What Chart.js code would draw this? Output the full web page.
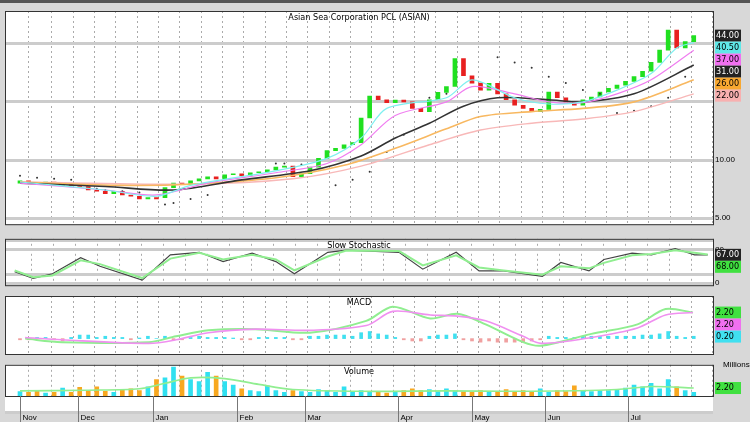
<!DOCTYPE html>
<html lang="en">
<head>
<meta charset="UTF-8">
<title>Asian Sea Corporation PCL (ASIAN)</title>
<script src="https://cdn.jsdelivr.net/npm/chart.js"></script>
<style>
  body { margin: 0; background: #fff; font-family: "DejaVu Sans", Arial, sans-serif; }
  #wrap { position: relative; width: 750px; height: 422px; border-top: 3px solid #555; box-sizing: border-box; background: #d8d8d8; overflow: hidden; }
  .panel { position: absolute; left: 0; width: 750px; }
</style>
</head>
<body>
<div id="wrap">
  <div class="panel" style="top:0;height:228px"><canvas id="priceChart"></canvas></div>
  <div class="panel" style="top:229px;height:60px"><canvas id="stochChart"></canvas></div>
  <div class="panel" style="top:290px;height:64px"><canvas id="macdChart"></canvas></div>
  <div class="panel" style="top:355px;height:64px"><canvas id="volChart"></canvas></div>
</div>
<script>
// daily candles (index 0..79)
const opens = [7.6,7.8,7.6,7.5,7.7,7.4,7.5,7.4,7.3,7.0, 6.9,6.7,6.9,6.6,6.5,6.3,6.4,6.4,7.2,7.6,
  7.5,7.8,8.0,8.2,8.0,8.4,8.5,8.3,8.6,8.7, 8.9,9.2,9.3,8.2,8.5,9.2,10.2,11.2,11.5,12.0,
  12.3,16.5,21.4,20.5,19.8,20.4,20.0,18.5,17.8,20.5, 22.4,24.0,33.5,27.3,25.0,23.0,24.9,22.0,20.5,19.2,
  18.5,17.8,18.3,22.5,21.0,20.0,19.2,20.5,21.2,22.5, 23.5,24.4,25.5,27.0,28.8,32.0,37.0,47.0,38.0,41.0];
const closes = [7.8,7.6,7.5,7.7,7.4,7.5,7.4,7.3,7.0,6.9, 6.7,6.9,6.6,6.5,6.3,6.4,6.3,7.2,7.6,7.5,
  7.8,8.0,8.2,8.0,8.4,8.5,8.3,8.6,8.7,8.9, 9.2,9.3,8.2,8.5,9.2,10.2,11.2,11.5,12.0,12.3,
  16.5,21.4,20.5,19.8,20.4,20.0,18.5,17.8,20.5,22.4, 24.0,33.5,27.3,25.0,23.0,24.9,22.0,20.5,19.2,18.5,
  17.8,18.3,22.5,21.0,20.0,19.2,20.5,21.2,22.5,23.5, 24.4,25.5,27.0,28.8,32.0,37.0,47.0,38.0,41.0,44.0];

// moving averages: [index, value]
const maCyan  = [[0,7.7],[10,7.0],[16,6.5],[20,7.4],[30,8.8],[36,10.2],[40,13],[43,18.5],[50,21],[53,26],[58,21],[62,19.5],[66,20],[70,23],[74,28],[77,38],[79,40.5]];
const maPink  = [[0,7.6],[10,7.0],[16,6.6],[22,7.6],[30,8.6],[36,9.6],[40,12],[44,17],[50,20],[53,24],[58,22],[62,20],[66,19.8],[70,22],[74,26],[79,37]];
const maBlack = [[0,7.6],[10,7.3],[18,7.0],[26,7.9],[34,8.8],[40,10.5],[44,13],[48,15.5],[52,19],[56,21],[62,20.5],[66,20],[72,22],[79,31]];
const maOrange= [[0,7.7],[12,7.4],[20,7.5],[30,8.1],[38,9.4],[44,11.5],[50,14.5],[54,16.8],[60,17.8],[66,18.5],[72,20],[79,26]];
const maRed   = [[0,7.7],[20,7.5],[32,8.0],[40,9.3],[48,12],[54,14.3],[60,15.5],[66,16.3],[72,17.8],[79,22]];
const sarPts  = [[0,8.3],[2,8.1],[4,8.0],[6,7.9],[9,7.1],[10,7.0],[12,6.9],[14,6.8],[17,5.9],[18,6.0],[20,6.3],[22,6.6],[30,9.6],[31,9.6],[33,9.5],[37,7.4],[39,7.9],[41,8.7],[43,11],[45,13.5],[48,21],[50,22],[56,34],[58,32],[60,30],[62,27],[64,25],[66,23],[68,22],[70,17.5],[72,18],[74,19],[76,21],[78,27]];

// slow stochastic
const stochX = [0.6,2.7,4.9,8.1,10.3,15.1,18.3,21.6,24.3,27.6,30.3,32.4,36.2,38.3,44.3,47,50.8,53.4,56.2,60.6,62.7,65.9,67.6,70.8,73,75.7,77.9,79.4];
const stochK = [27,11,22,60,40,7,67,73,51,71,51,22,73,78,73,33,73,29,29,16,49,29,56,71,67,82,67,67];
const stochD = [30,14,18,54,45,12,58,72,56,67,56,30,63,77,76,42,66,37,30,20,40,35,48,66,69,78,72,68];

// MACD
const macdX    = [0.6,4.9,15.1,18.3,22.1,27.6,34,40.6,43.7,48.1,51.3,54.6,59,61.1,67,72.4,75.7,78.9];
const macdLine = [0,-0.3,-0.3,0.2,0.7,0.8,0.5,1.5,2.7,1.7,2.1,1.2,-0.3,-0.6,0.4,1.2,2.5,2.2];
const macdSig  = [0.1,-0.1,-0.4,-0.1,0.5,0.8,0.7,1.1,2.3,2.0,1.9,1.5,0.2,-0.4,0.1,0.9,2.0,2.2];
const macdHist = [-0.1,-0.1,0.1,0.1,-0.1,-0.2,0.1,0.3,0.3,0.1,0.2,0.1,0.1,-0.1,0.05,0.2,0,0.2,-0.1,-0.1,
  0.1,0.2,0.1,0.1,0.1,0.05,-0.1,-0.1,0.1,0.1, 0.1,0.1,-0.1,-0.1,0.2,0.2,0.3,0.3,0.3,0.2,
  0.5,0.6,0.4,0.3,0.1,-0.1,-0.2,-0.2,0.2,0.3, 0.3,0.4,-0.1,-0.2,-0.3,-0.2,-0.3,-0.3,-0.3,-0.3,
  -0.2,-0.1,0.2,0.1,0.1,0.1,0.2,0.2,0.2,0.2, 0.2,0.2,0.2,0.3,0.3,0.4,0.6,0.2,0.1,0.2];

// volume (millions)
const volumes = [1.2,1.0,1.5,0.8,1.0,2.2,1.0,2.4,1.5,2.5, 1.3,1.0,1.8,2.0,1.5,2.5,4.5,5.0,8.0,5.5,
  4.5,4.0,6.5,5.5,4.0,3.0,2.0,1.5,1.2,2.8, 1.5,1.0,1.5,1.2,1.0,1.8,1.5,1.0,2.5,1.2,
  1.5,1.2,1.0,0.8,1.0,1.5,2.0,1.5,1.8,1.2, 2.0,1.5,1.2,1.0,1.5,1.2,1.0,1.8,1.0,1.5,
  1.2,2.0,1.0,1.5,1.2,2.8,1.5,1.2,1.5,1.5, 1.8,2.2,3.0,2.5,3.5,2.0,4.5,2.5,1.5,1.0];
const volMa = [[0,1.4],[8,1.6],[14,2.0],[17,3.5],[20,5.0],[24,4.8],[28,3.2],[32,1.8],[40,1.3],[50,1.4],[60,1.3],[70,1.8],[74,2.6],[79,2.2]];

// months on the time axis
const monthPos = [0,6.8,15.6,25.4,33.4,44.3,53,61.6,71.3];
const monthLabels = ['Nov','Dec','Jan','Feb','Mar','Apr','May','Jun','Jul'];

const pts = arr => arr.map(p => ({ x: p[0], y: p[1] }));
const xyOf = (xs, ys) => xs.map((x, i) => ({ x: x, y: ys[i] }));

// white plot area, panel title, value boxes and month row
const decor = {
  id: 'decor',
  beforeDraw(chart) {
    const { ctx, chartArea: a } = chart;
    ctx.save();
    ctx.fillStyle = '#fff';
    ctx.fillRect(a.left, a.top, a.right - a.left, a.bottom - a.top);
    ctx.restore();
  },
  afterDraw(chart, args, opts) {
    const { ctx, chartArea: a } = chart;
    ctx.save();
    ctx.strokeStyle = '#333'; ctx.lineWidth = 1;
    ctx.strokeRect(a.left + 0.5, a.top + 0.5, a.right - a.left, a.bottom - a.top);
    ctx.font = '9px "Liberation Sans Narrow", "DejaVu Sans Condensed", sans-serif';
    ctx.fillStyle = '#000'; ctx.textAlign = 'center'; ctx.textBaseline = 'top';
    if (opts.title) ctx.fillText(opts.title, (a.left + a.right) / 2, a.top + 2);
    ctx.textAlign = 'left'; ctx.textBaseline = 'middle';
    let prevY = -100;
    (opts.boxes || []).forEach(b => {
      const ds = chart.data.datasets[b.ds];
      const last = ds.data[ds.data.length - 1];
      let v = typeof last === 'object' ? last.y : last;
      if (Array.isArray(v)) v = v[1];
      let y = chart.scales.y.getPixelForValue(v);
      if (y < prevY + 12) y = prevY + 12;
      prevY = y;
      ctx.fillStyle = b.bg; ctx.fillRect(a.right + 2, y - 6, 26, 12);
      ctx.fillStyle = b.fg || '#000'; ctx.fillText(v.toFixed(2), a.right + 3, y);
    });
    if (opts.months) {
      const xs = chart.scales.x;
      ctx.fillStyle = '#fff';
      ctx.fillRect(a.left, a.bottom + 1, a.right - a.left, 14);
      ctx.fillStyle = '#ccc';
      ctx.fillRect(a.left, a.bottom + 15, a.right - a.left, 3);
      ctx.strokeStyle = '#777';
      ctx.fillStyle = '#000';
      ctx.font = '8px "Liberation Sans Narrow", sans-serif';
      monthPos.forEach((m, i) => {
        const px = Math.round(xs.getPixelForValue(m)) + 0.5;
        ctx.beginPath(); ctx.moveTo(px, a.bottom); ctx.lineTo(px, a.bottom + 26); ctx.stroke();
        ctx.fillText(monthLabels[i], px + 2, a.bottom + 22);
      });
    }
    ctx.restore();
  }
};

const xScale = () => ({
  type: 'linear', min: -0.5, max: 80,
  grid: { color: '#aaa', drawTicks: false },
  border: { display: false, dash: [2, 3] },
  ticks: { display: false, stepSize: 2.5 }
});
const yRight = (extra) => Object.assign({
  position: 'right',
  afterFit(s) { s.width = 37; },
  grid: { color: '#ccc', lineWidth: 3, drawTicks: false },
  border: { display: false },
  ticks: { font: { size: 8 }, color: '#000', padding: 2 }
}, extra);
const base = {
  responsive: true, maintainAspectRatio: false, animation: false,
  plugins: { legend: { display: false }, tooltip: { enabled: false } },
  elements: { point: { radius: 0 } }
};
Chart.register(decor);

const line = (data, color, w, t) => ({ type: 'line', data, borderColor: color, borderWidth: w || 1.2, pointRadius: 0, tension: t === undefined ? 0.3 : t });

// price panel
new Chart(document.getElementById('priceChart'), {
  data: {
    datasets: [
      line(pts(maCyan), '#7ff0f0'),
      line(pts(maPink), '#f07ef0'),
      line(pts(maBlack), '#333', 1.6),
      line(pts(maOrange), '#f8b860', 1.6),
      line(pts(maRed), '#f8b8b8', 1.4),
      { type: 'scatter', data: pts(sarPts), pointRadius: 1, backgroundColor: '#333', borderWidth: 0 },
      { type: 'bar', data: closes.map((c, i) => ({ x: i, y: [opens[i], c === opens[i] ? c * 1.01 : c] })),
        backgroundColor: closes.map((c, i) => c >= opens[i] ? '#20e020' : '#e82020'), barThickness: 4 }
    ]
  },
  options: Object.assign({}, base, {
    layout: { padding: { left: 5, top: 8, bottom: 2 } },
    plugins: Object.assign({}, base.plugins, { decor: {
      title: 'Asian Sea Corporation PCL (ASIAN)',
      boxes: [{ ds: 6, bg: '#222', fg: '#fff' }, { ds: 0, bg: '#60e8e8' }, { ds: 1, bg: '#f070f0' }, { ds: 2, bg: '#222', fg: '#fff' }, { ds: 3, bg: '#f8a830' }, { ds: 4, bg: '#f8b0b0' }]
    } }),
    scales: {
      x: xScale(),
      y: yRight({ type: 'logarithmic', min: 4.66, max: 59,
        afterBuildTicks(s) { s.ticks = [5, 10, 20, 40].map(v => ({ value: v })); },
        ticks: { font: { size: 8 }, color: '#000', padding: 2, callback: v => v <= 10 ? v.toFixed(2) : '' } })
    }
  })
});

// stochastic panel
new Chart(document.getElementById('stochChart'), {
  data: { datasets: [ line(xyOf(stochX, stochD), '#90ee90', 2, 0), line(xyOf(stochX, stochK), '#444', 1.2, 0) ] },
  options: Object.assign({}, base, {
    layout: { padding: { left: 5, top: 3, bottom: 3 } },
    plugins: Object.assign({}, base.plugins, { decor: { title: 'Slow Stochastic',
      boxes: [{ ds: 1, bg: '#222', fg: '#fff' }, { ds: 0, bg: '#40e040' }] } }),
    scales: { x: xScale(),
      y: yRight({ min: -5, max: 105, afterBuildTicks(s) { s.ticks = [0, 20, 80, 100].map(v => ({ value: v })); },
        ticks: { font: { size: 8 }, color: '#000', padding: 2, callback: v => (v === 0 || v === 80) ? v : '' } }) }
  })
});

// MACD panel
new Chart(document.getElementById('macdChart'), {
  data: { datasets: [
    line(xyOf(macdX, macdSig), '#f090f0', 1.6),
    line(xyOf(macdX, macdLine), '#90ee90', 2),
    { type: 'bar', data: macdHist.map((v, i) => ({ x: i, y: v })), backgroundColor: macdHist.map(v => v >= 0 ? '#40e0f0' : '#f0a0a0'), barThickness: 3 }
  ] },
  options: Object.assign({}, base, {
    layout: { padding: { left: 5, top: 3, bottom: 3 } },
    plugins: Object.assign({}, base.plugins, { decor: { title: 'MACD',
      boxes: [{ ds: 1, bg: '#40e040' }, { ds: 0, bg: '#f070f0' }, { ds: 2, bg: '#40e0f0' }] } }),
    scales: { x: xScale(),
      y: yRight({ min: -1.3, max: 3.6, grid: { display: false }, ticks: { display: false } }) }
  })
});

// volume panel
new Chart(document.getElementById('volChart'), {
  data: { datasets: [
    line(pts(volMa), '#90ee90', 1.6),
    { type: 'bar', data: volumes.map((v, i) => ({ x: i, y: v })),
      backgroundColor: closes.map((c, i) => c >= opens[i] ? '#30e0f0' : '#f8a820'), barThickness: 4 }
  ] },
  options: Object.assign({}, base, {
    layout: { padding: { left: 5, top: 3, bottom: 26 } },
    plugins: Object.assign({}, base.plugins, { decor: { title: 'Volume', months: true,
      boxes: [{ ds: 0, bg: '#40e040' }] } }),
    scales: {
      x: xScale(),
      y: yRight({ min: 0, max: 8.6, grid: { display: false },
        afterBuildTicks(s) { s.ticks = [{ value: 8.6 }]; },
        ticks: { font: { size: 8 }, color: '#000', padding: 2, callback: () => 'Millions' } })
    }
  })
});
</script>
</body>
</html>
